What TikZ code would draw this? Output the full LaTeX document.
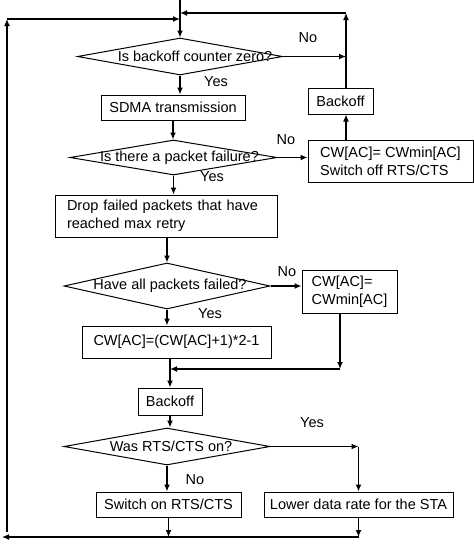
\documentclass[tikz,border=0pt]{standalone}
\usepackage{fontspec}
\setmainfont{Liberation Sans}
\usetikzlibrary{shapes.geometric,arrows.meta}

\begin{document}
\begin{tikzpicture}[x=1pt,y=-1pt,
    font=\fontsize{14.5}{18}\selectfont,
    box/.style={draw, line width=1pt, inner sep=0pt},
    dec/.style={draw, diamond, line width=1pt, inner sep=0pt},
    arr/.style={line width=1.3pt, -{Latex[length=7pt,width=6pt]}}]
    \useasboundingbox (0,0) rectangle (474,544);
    % decisions
    \node[dec, minimum width=205pt, minimum height=37pt,
          label={[xshift=15pt]center:Is backoff counter zero?}] (zero) at (180,56.5) {};
    \node[dec, minimum width=207pt, minimum height=35pt,
          label={[xshift=6pt]center:Is there a packet failure?}] (fail) at (173.5,157.5) {};
    \node[dec, minimum width=206pt, minimum height=46pt,
          label={[xshift=3pt]center:Have all packets failed?}] (allf) at (167,286) {};
    \node[dec, minimum width=206pt, minimum height=37pt,
          label={[xshift=4pt]center:Was RTS/CTS on?}] (rts) at (167,446.5) {};
    % boxes
    \node[box, minimum width=144pt, minimum height=25pt] (sdma) at (173,107.5) {SDMA transmission};
    \node[box, minimum width=65pt, minimum height=26pt] (boA) at (340.5,101) {Backoff};
    \node[box, minimum width=165pt, minimum height=42pt, align=left] (cwA) at (390.5,161)
        {CW[AC]= CWmin[AC]\\Switch off RTS/CTS};
    \node[box, text width=198pt, inner xsep=12pt, minimum height=42pt, align=left] (drop) at (166,216)
        {Drop failed packets that have\\reached max retry};
    \node[box, minimum width=95pt, minimum height=43pt, align=left] (cwB) at (349.5,291.5)
        {CW[AC]=\\CWmin[AC]};
    \node[box, minimum width=189pt, minimum height=32pt] (cwC) at (176.5,342) {CW[AC]=(CW[AC]+1)*2-1};
    \node[box, minimum width=64pt, minimum height=27pt] (boB) at (170,401.5) {Backoff};
    \node[box, minimum width=145pt, minimum height=25pt] (swon) at (168.5,504.5) {Switch on RTS/CTS};
    \node[box, minimum width=189pt, minimum height=25pt] (lower) at (358.5,504.5) {Lower data rate for the STA};
    % yes / no
    \node (noA) at (308,38) {No};
    \node (yesA) at (216,82) {Yes};
    \node (noB) at (286,140) {No};
    \node (yesB) at (212,177) {Yes};
    \node (noC) at (287,272) {No};
    \node (yesC) at (210,314) {Yes};
    \node (yesD) at (312,423) {Yes};
    \node (noD) at (195,480) {No};
    % corners
    \coordinate (top) at (180,0);
    \coordinate (tl) at (7,19);
    \coordinate (lb) at (7,532);
    \coordinate (rt) at (346,13);
    \coordinate (mg) at (340,369);
    \coordinate (bl) at (2,537);
    \coordinate (cr) at (lower.north |- rts.east);
    % main column
    \draw[arr] (top) -- (zero.north);
    \draw[arr] (zero.south) -- (zero.south |- sdma.north);
    \draw[arr] (sdma.south) -- (sdma.south |- fail.north);
    \draw[arr] (fail.south) -- (fail.south |- drop.north);
    \draw[arr] (drop.south -| allf.north) -- (allf.north);
    \draw[arr] (allf.south) -- (allf.south |- cwC.north);
    \draw[arr] (boB.north |- cwC.south) -- (boB.north);
    \draw[arr] (boB.south) -- (boB.south |- rts.north);
    \draw[arr] (rts.south) -- (rts.south |- swon.north);
    % right side
    \draw[arr] (zero.east) -- (zero.east -| rt);
    \draw[arr] (cwA.north -| rt) -- (boA.south -| rt);
    \draw[arr] (boA.north -| rt) -- (rt);
    \draw[arr] (rt) -- (rt -| zero.north);
    \draw[arr] (fail.east) -- (fail.east -| cwA.west);
    \draw[arr] (allf.east) -- (allf.east -| cwB.west);
    \draw[arr] (cwB.south -| mg) -- (mg);
    \draw[arr] (mg) -- (mg -| boB.north);
    \draw[arr] (rts.east) -- (cr);
    \draw[arr] (cr) -- (lower.north);
    % loop back
    \draw[arr] (swon.south) -- (swon.south |- bl);
    \draw[arr] (lower.south) -- (lower.south |- bl);
    \draw[arr] (lower.south |- bl) -- (bl);
    \draw[arr] (lb) -- (tl);
    \draw[arr] (tl) -- (tl -| zero.north);
\end{tikzpicture}
\end{document}
